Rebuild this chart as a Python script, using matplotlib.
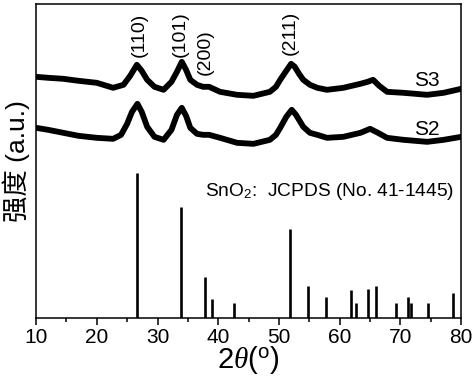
import matplotlib
matplotlib.use("Agg")
import matplotlib.pyplot as plt

plt.rcParams['font.family'] = ['Liberation Sans', 'Noto Sans CJK SC']
plt.rcParams['mathtext.fontset'] = 'custom'
plt.rcParams['mathtext.rm'] = 'Liberation Sans'
plt.rcParams['mathtext.it'] = 'Liberation Serif:italic'

# XRD patterns (arbitrary units, curves already offset)
s3_x = [10, 12, 14.5, 17, 20, 22.7, 24.4, 25.5, 26.6, 27.4, 28.3, 29.5, 31, 32.3, 33.2, 34.0,
        34.7, 35.4, 36.5, 37.5, 38.5, 40.3, 43.1, 45.8, 48.5, 49.5, 50.2, 51.2, 52.0, 52.6,
        53.3, 54, 55.1, 56.3, 57.9, 60.6, 63.4, 64.6, 65.5, 66.5, 67.8, 70.5, 74.4, 77.1, 80]
s3_y = [241, 240, 239, 237, 235, 230, 233, 242, 253, 247, 238, 231, 228, 236, 246, 256,
        248, 238, 233, 231, 231, 226, 223, 222, 226, 231, 238, 247, 254, 251,
        244, 238, 233, 230, 228, 230, 234, 236, 238, 232, 226, 225, 223, 225, 229]

s2_x = [10, 12, 14.5, 17, 20, 22.7, 24, 25, 25.8, 26.7, 27.4, 28.3, 29.5, 31, 32.3, 33.2, 34.0,
        34.7, 35.4, 36.5, 37.5, 38.5, 40.3, 43.1, 45.8, 48.5, 49.5, 50.2, 51.2, 52.1, 52.8,
        54, 55.1, 56.3, 57.9, 60.6, 63.4, 65.0, 66.3, 67.8, 70.5, 74.4, 77.1, 80]
s2_y = [190, 188, 185, 182, 180, 179, 183, 194, 206, 214, 206, 191, 181, 178, 188, 203, 210,
        202, 190, 184, 183, 183, 180, 175, 174, 178, 183, 190, 201, 208, 203,
        191, 185, 183, 180, 181, 185, 189, 185, 180, 178, 176, 178, 181]

# SnO2 JCPDS 41-1445 reference lines (relative intensity)
ref_pos = [26.6, 33.9, 37.9, 38.9, 42.6, 51.8, 54.7, 57.8, 61.9, 62.6, 64.7, 65.9,
           69.2, 71.3, 71.8, 74.5, 78.7]
ref_int = [100, 76.5, 28, 13, 10, 61, 22, 14.5, 19, 10, 20, 22,
           10, 14.5, 10, 10, 17]

peak_labels = ['(110)', '(101)', '(200)', '(211)']
peak_x = [27.0, 33.8, 37.8, 51.8]
peak_y = [283, 284, 266, 285]

fig = plt.figure(figsize=(4.74, 3.78), dpi=100)
ax = fig.add_axes([0.076, 0.159, 0.897, 0.831])

ax.plot(s3_x, s3_y, color='black', lw=4.2)
ax.plot(s2_x, s2_y, color='black', lw=4.2)
ax.vlines(ref_pos, 0, [v * 1.45 for v in ref_int], color='black', lw=1.9)

for lab, px, py in zip(peak_labels, peak_x, peak_y):
    ax.text(px, py, lab, rotation=90, ha='center', va='center', fontsize=14)

ax.text(74.4, 237, 'S3', ha='center', va='center', fontsize=15)
ax.text(74.4, 188, 'S2', ha='center', va='center', fontsize=15)
ax.text(78.8, 126, 'SnO$_2$:  JCPDS (No. 41-1445)', ha='right', va='center', fontsize=13.8)

ax.set_xlim(10, 80)
ax.set_ylim(0, 314)
ax.set_xticks(range(10, 81, 10))
ax.set_xticks(range(15, 80, 10), minor=True)
ax.set_yticks([])
ax.tick_params(axis='x', which='major', direction='out', length=5, width=1.1, labelsize=15, pad=2)
ax.tick_params(axis='x', which='minor', direction='out', length=3, width=1.1)
for sp in ax.spines.values():
    sp.set_linewidth(1.1)

ax.set_xlabel('2$\\theta$($^{\\rm o}$)', fontsize=21, labelpad=-2)
ax.set_ylabel('强度 (a.u.)', fontsize=19, labelpad=4)

fig.savefig('out.png', dpi=100)
